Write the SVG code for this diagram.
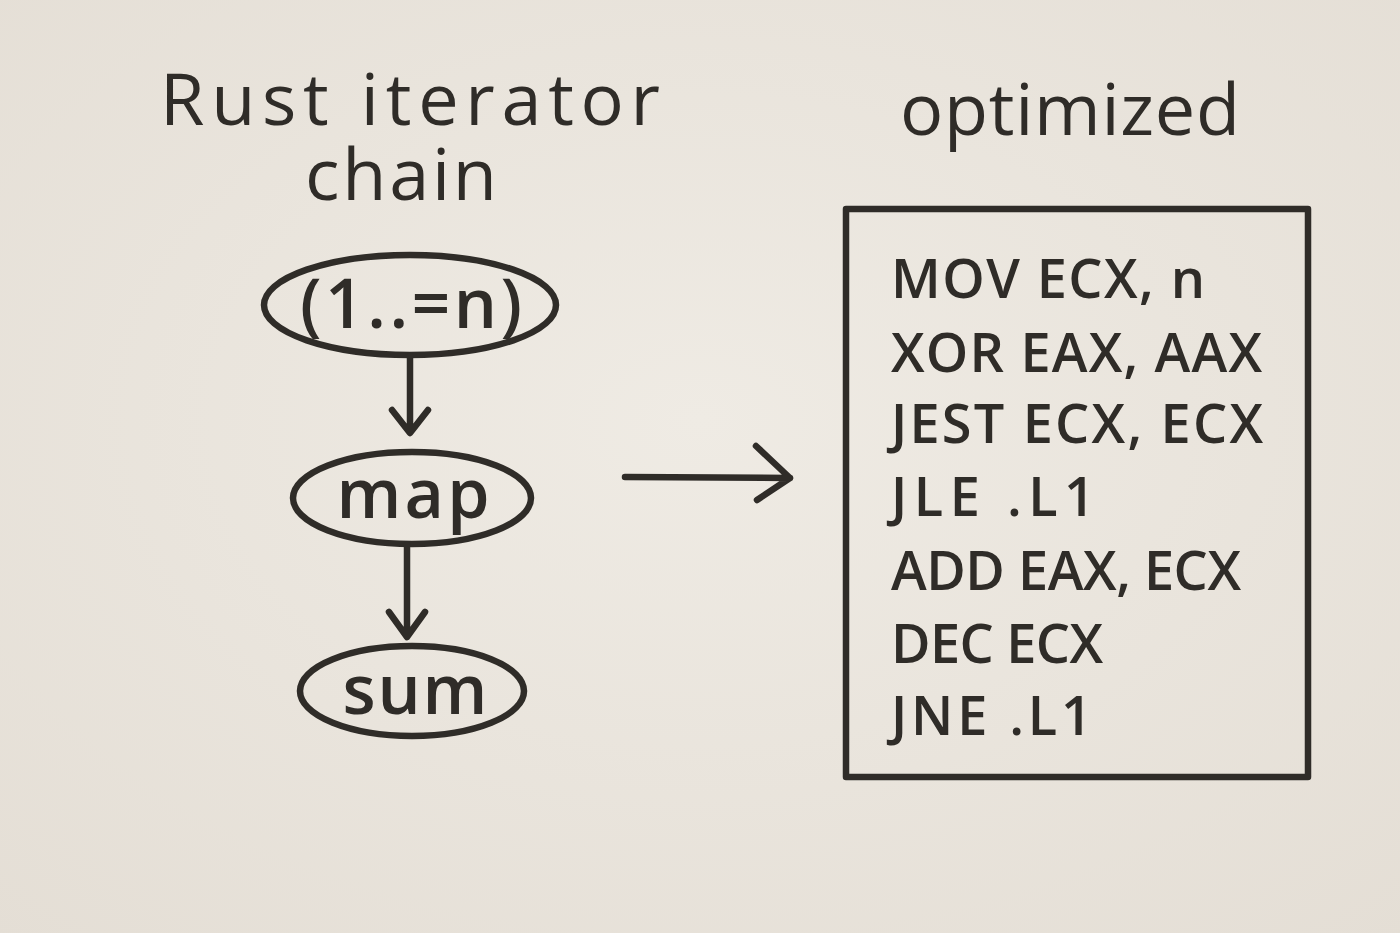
<svg xmlns="http://www.w3.org/2000/svg" width="1400" height="933" viewBox="0 0 1400 933">
<defs>
<style>
.ink{fill:none;stroke:#2f2c28;stroke-width:6.5;stroke-linecap:round;stroke-linejoin:round}
.t{fill:#2f2c28;font-family:"Open Sans","DejaVu Sans",sans-serif}
.title{font-size:72px;font-weight:500}
.node{font-size:68px;font-weight:600;text-anchor:middle}
.code{font-size:54px;font-weight:600}
</style>
<radialGradient id="g" cx="50%" cy="45%" r="75%">
<stop offset="0" stop-color="#efebe4"/>
<stop offset="1" stop-color="#e4ded5"/>
</radialGradient>
</defs>
<rect width="1400" height="933" fill="url(#g)"/>
<g id="title-left">
<text class="t title" x="410" y="125" text-anchor="middle" textLength="500" lengthAdjust="spacing">Rust iterator</text>
<text class="t title" x="401" y="200" text-anchor="middle" textLength="192" lengthAdjust="spacing">chain</text>
</g>
<g id="title-right">
<text class="t title" x="1070" y="135" text-anchor="middle" textLength="340" lengthAdjust="spacing">optimized</text>
</g>
<g id="node-range">
<ellipse class="ink" cx="410" cy="305" rx="146" ry="50"/>
<text class="t node" x="411" y="328" textLength="222" lengthAdjust="spacing">(1..=n)</text>
</g>
<g id="node-map">
<ellipse class="ink" cx="412" cy="498" rx="119" ry="46"/>
<text class="t node" x="413" y="518" textLength="153" lengthAdjust="spacing">map</text>
</g>
<g id="node-sum">
<ellipse class="ink" cx="412" cy="691" rx="112" ry="45"/>
<text class="t node" x="415" y="714" textLength="145" lengthAdjust="spacing">sum</text>
</g>
<g id="connectors">
<path class="ink" d="M410 356 L410 432 M392 410 L410 433 L428 410"/>
<path class="ink" d="M407 545 L407 636 M389 612 L407 637 L425 612"/>
<path class="ink" d="M625 477 L790 478 M756 446 L790 478 L757 500"/>
</g>
<g id="asm-box">
<rect class="ink" x="846" y="209" width="462" height="568"/>
<text class="t code" x="891" y="298" textLength="314" lengthAdjust="spacing">MOV ECX, n</text>
<text class="t code" x="891" y="372" textLength="371" lengthAdjust="spacing">XOR EAX, AAX</text>
<text class="t code" x="891" y="443" textLength="372" lengthAdjust="spacing">JEST ECX, ECX</text>
<text class="t code" x="891" y="516" textLength="204" lengthAdjust="spacing">JLE .L1</text>
<text class="t code" x="891" y="590" textLength="350" lengthAdjust="spacing">ADD EAX, ECX</text>
<text class="t code" x="891" y="663" textLength="212" lengthAdjust="spacing">DEC ECX</text>
<text class="t code" x="891" y="735" textLength="201" lengthAdjust="spacing">JNE .L1</text>
</g>
</svg>
